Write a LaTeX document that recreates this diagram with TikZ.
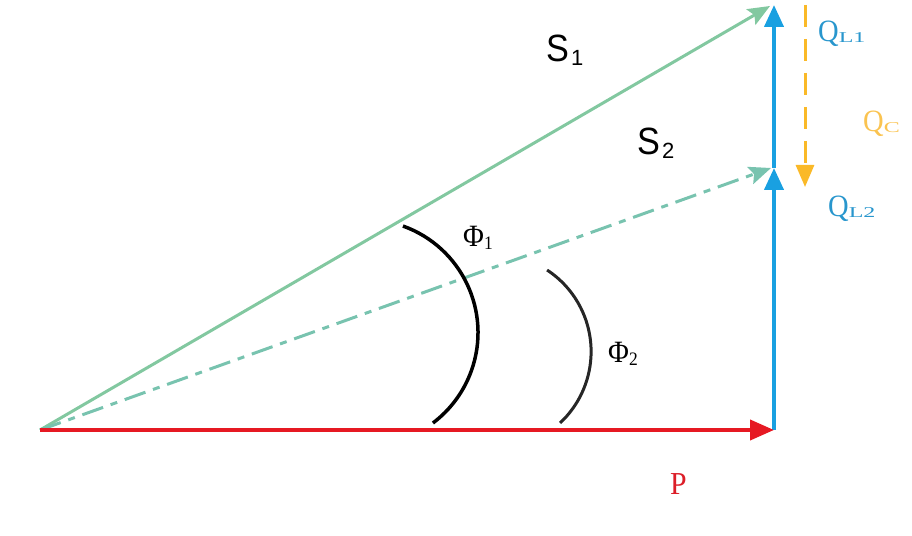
\documentclass[tikz,border=0pt]{standalone}
\usepackage{fontspec}
\usepackage{graphicx}
\setmainfont{Liberation Serif}
\newfontfamily\arialf{Liberation Sans}
\usetikzlibrary{arrows.meta}
\definecolor{pred}{RGB}{230,25,35}
\definecolor{qblue}{RGB}{25,160,225}
\definecolor{sgreen}{RGB}{130,200,160}
\definecolor{sdash}{RGB}{120,195,175}
\definecolor{qorange}{RGB}{250,185,40}
\definecolor{qctext}{RGB}{250,195,80}
\definecolor{qltext}{RGB}{40,150,205}
\definecolor{ptext}{RGB}{220,30,40}
\tikzset{
  lbl/.style={inner sep=0pt, anchor=base west},
  pline/.style={pred, line width=4pt, -{Triangle[length=24pt,width=20pt]}},
  qline/.style={qblue, line width=4pt, -{Triangle[length=22pt,width=19pt]}},
  s1line/.style={sgreen, line width=3pt, -{Stealth[length=22pt,width=18pt,inset=4pt]}},
  s2line/.style={sdash, line width=3pt, dash pattern=on 22pt off 8pt on 7pt off 8pt, -{Stealth[length=22pt,width=18pt,inset=4pt]}},
  qcline/.style={qorange, line width=3pt, dash pattern=on 22pt off 12pt, -{Triangle[length=22pt,width=18pt]}},
  arcA/.style={black, line width=3.5pt},
  arcB/.style={black!85, line width=3pt}
}
\newcommand{\serifsz}{\fontsize{31}{31}\selectfont}
\newcommand{\subsz}{\fontsize{15}{15}\selectfont}
\newcommand{\phisub}{\fontsize{19}{19}\selectfont}
\newcommand{\qsub}[1]{\raisebox{-1pt}{\scalebox{1.6}[1]{\subsz #1}}}
\newcommand{\ssym}[1]{{\arialf\scalebox{0.9}[1]{\fontsize{38}{38}\selectfont S}\hspace{2pt}\raisebox{-4pt}{\fontsize{22}{22}\selectfont #1}}}
\begin{document}
\begin{tikzpicture}[x=1pt,y=1pt]
\useasboundingbox (0,0) rectangle (912,535);
% key points
\coordinate (O) at (40,105);
\coordinate (Pend) at (774,105);
\coordinate (QMid) at (774,367);
\coordinate (QTop) at (774,530);
\coordinate (S1end) at (770,529);
\coordinate (S2end) at (771,367);
\coordinate (QCtop) at (805,530);
\coordinate (QCend) at (805,348);
\coordinate (C1) at (364.8,202.4);
\coordinate (C2) at (493.5,183.4);
% vectors
\draw[s1line] (O) -- (S1end);
\draw[s2line] (O) -- (S2end);
\draw[qline] (Pend) -- (QMid);
\draw[qline] (QMid) -- (QTop);
\draw[pline] (O) -- (Pend);
\draw[qcline] (QCtop) -- (QCend);
% angle arcs
\draw[arcA] (C1) ++(70.3:113.2) arc[start angle=70.3, end angle=-53, radius=113.2];
\draw[arcB] (C2) ++(56.7:97.6) arc[start angle=56.7, end angle=-47, radius=97.6];
% labels
\node[lbl] (lS1) at (546,473) {\ssym{1}};
\node[lbl] (lS2) at (637,380) {\ssym{2}};
\node[lbl, text=qltext] (lQL1) at (818,493) {\scalebox{0.92}[1]{\serifsz Q}\qsub{L1}};
\node[lbl, text=qctext] (lQC) at (863,403) {\scalebox{0.92}[1]{\serifsz Q}\qsub{C}};
\node[lbl, text=qltext] (lQL2) at (828,318) {\scalebox{0.92}[1]{\serifsz Q}\qsub{L2}};
\node[lbl] (lF1) at (463,288) {\scalebox{0.92}[1]{\serifsz Φ\raisebox{-3pt}{\phisub 1}}};
\node[lbl] (lF2) at (608,172) {\scalebox{0.92}[1]{\serifsz Φ\raisebox{-3pt}{\phisub 2}}};
\node[lbl, text=ptext] (lP) at (670,40) {\scalebox{0.93}[1]{\fontsize{32}{32}\selectfont P}};
\end{tikzpicture}
\end{document}
